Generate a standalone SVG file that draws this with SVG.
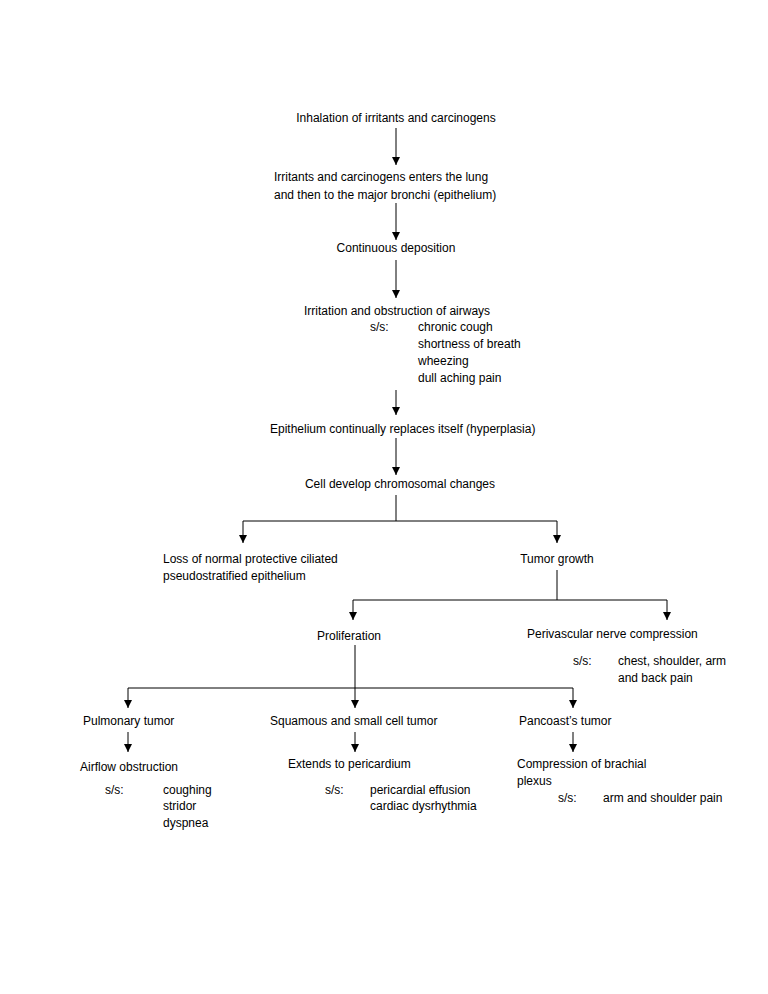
<svg xmlns="http://www.w3.org/2000/svg" width="768" height="994" viewBox="0 0 768 994">
<style>
text{font-family:"Liberation Sans",Arial,sans-serif;font-size:12px;fill:#000}
.c{text-anchor:middle}
line{stroke:#000;stroke-width:1}
</style>
<defs><marker id="a" viewBox="0 0 10 10" refX="10" refY="5" markerWidth="8" markerHeight="8" markerUnits="userSpaceOnUse" orient="auto"><path d="M0,0L10,5L0,10z" fill="#000"/></marker></defs>
<rect width="768" height="994" fill="#fff"/>
<g id="connectors">
<line x1="396" y1="128" x2="396" y2="165" marker-end="url(#a)"/>
<line x1="396" y1="203" x2="396" y2="240" marker-end="url(#a)"/>
<line x1="396" y1="260" x2="396" y2="298" marker-end="url(#a)"/>
<line x1="396" y1="390" x2="396" y2="415" marker-end="url(#a)"/>
<line x1="396" y1="438" x2="396" y2="475" marker-end="url(#a)"/>
<line x1="396" y1="495" x2="396" y2="521"/>
<line x1="243" y1="521" x2="557" y2="521"/>
<line x1="243" y1="521" x2="243" y2="543" marker-end="url(#a)"/>
<line x1="557" y1="521" x2="557" y2="543" marker-end="url(#a)"/>
<line x1="557" y1="570" x2="557" y2="600"/>
<line x1="353" y1="600" x2="667" y2="600"/>
<line x1="353" y1="600" x2="353" y2="620" marker-end="url(#a)"/>
<line x1="667" y1="600" x2="667" y2="620" marker-end="url(#a)"/>
<line x1="355" y1="645" x2="355" y2="688"/>
<line x1="128" y1="688" x2="573" y2="688"/>
<line x1="128" y1="688" x2="128" y2="708" marker-end="url(#a)"/>
<line x1="355" y1="688" x2="355" y2="708" marker-end="url(#a)"/>
<line x1="573" y1="688" x2="573" y2="708" marker-end="url(#a)"/>
<line x1="128" y1="732" x2="128" y2="752" marker-end="url(#a)"/>
<line x1="355" y1="732" x2="355" y2="752" marker-end="url(#a)"/>
<line x1="573" y1="732" x2="573" y2="752" marker-end="url(#a)"/>
</g>
<g id="n1"><text class="c" x="396" y="122">Inhalation of irritants and carcinogens</text></g>
<g id="n2"><text x="274" y="181">Irritants  and  carcinogens  enters  the  lung</text><text x="274" y="199">and then to the major bronchi (epithelium)</text></g>
<g id="n3"><text class="c" x="396" y="252">Continuous deposition</text></g>
<g id="n4"><text x="304" y="315">Irritation and obstruction of airways</text><text x="370" y="331">s/s:</text><text x="418" y="331">chronic cough</text><text x="418" y="348">shortness of breath</text><text x="418" y="365">wheezing</text><text x="418" y="382">dull aching pain</text></g>
<g id="n5"><text x="270" y="433">Epithelium continually replaces itself (hyperplasia)</text></g>
<g id="n6"><text class="c" x="400" y="488">Cell develop chromosomal changes</text></g>
<g id="n7"><text x="163" y="563">Loss of normal protective ciliated</text><text x="163" y="580">pseudostratified epithelium</text></g>
<g id="n8"><text class="c" x="557" y="563">Tumor growth</text></g>
<g id="n9"><text class="c" x="349" y="640">Proliferation</text></g>
<g id="n10"><text x="527" y="638">Perivascular nerve compression</text><text x="573" y="665">s/s:</text><text x="618" y="665">chest, shoulder, arm</text><text x="618" y="682">and back pain</text></g>
<g id="n11"><text x="83" y="725">Pulmonary tumor</text></g>
<g id="n12"><text x="270" y="725">Squamous and small cell tumor</text></g>
<g id="n13"><text x="519" y="725">Pancoast’s tumor</text></g>
<g id="n14"><text x="80" y="771">Airflow obstruction</text><text x="105" y="794">s/s:</text><text x="163" y="794">coughing</text><text x="163" y="810">stridor</text><text x="163" y="827">dyspnea</text></g>
<g id="n15"><text x="288" y="768">Extends to pericardium</text><text x="325" y="794">s/s:</text><text x="370" y="794">pericardial effusion</text><text x="370" y="810">cardiac dysrhythmia</text></g>
<g id="n16"><text x="517" y="768">Compression  of  brachial</text><text x="517" y="785">plexus</text><text x="558" y="802">s/s:</text><text x="603" y="802">arm and shoulder pain</text></g>
</svg>
